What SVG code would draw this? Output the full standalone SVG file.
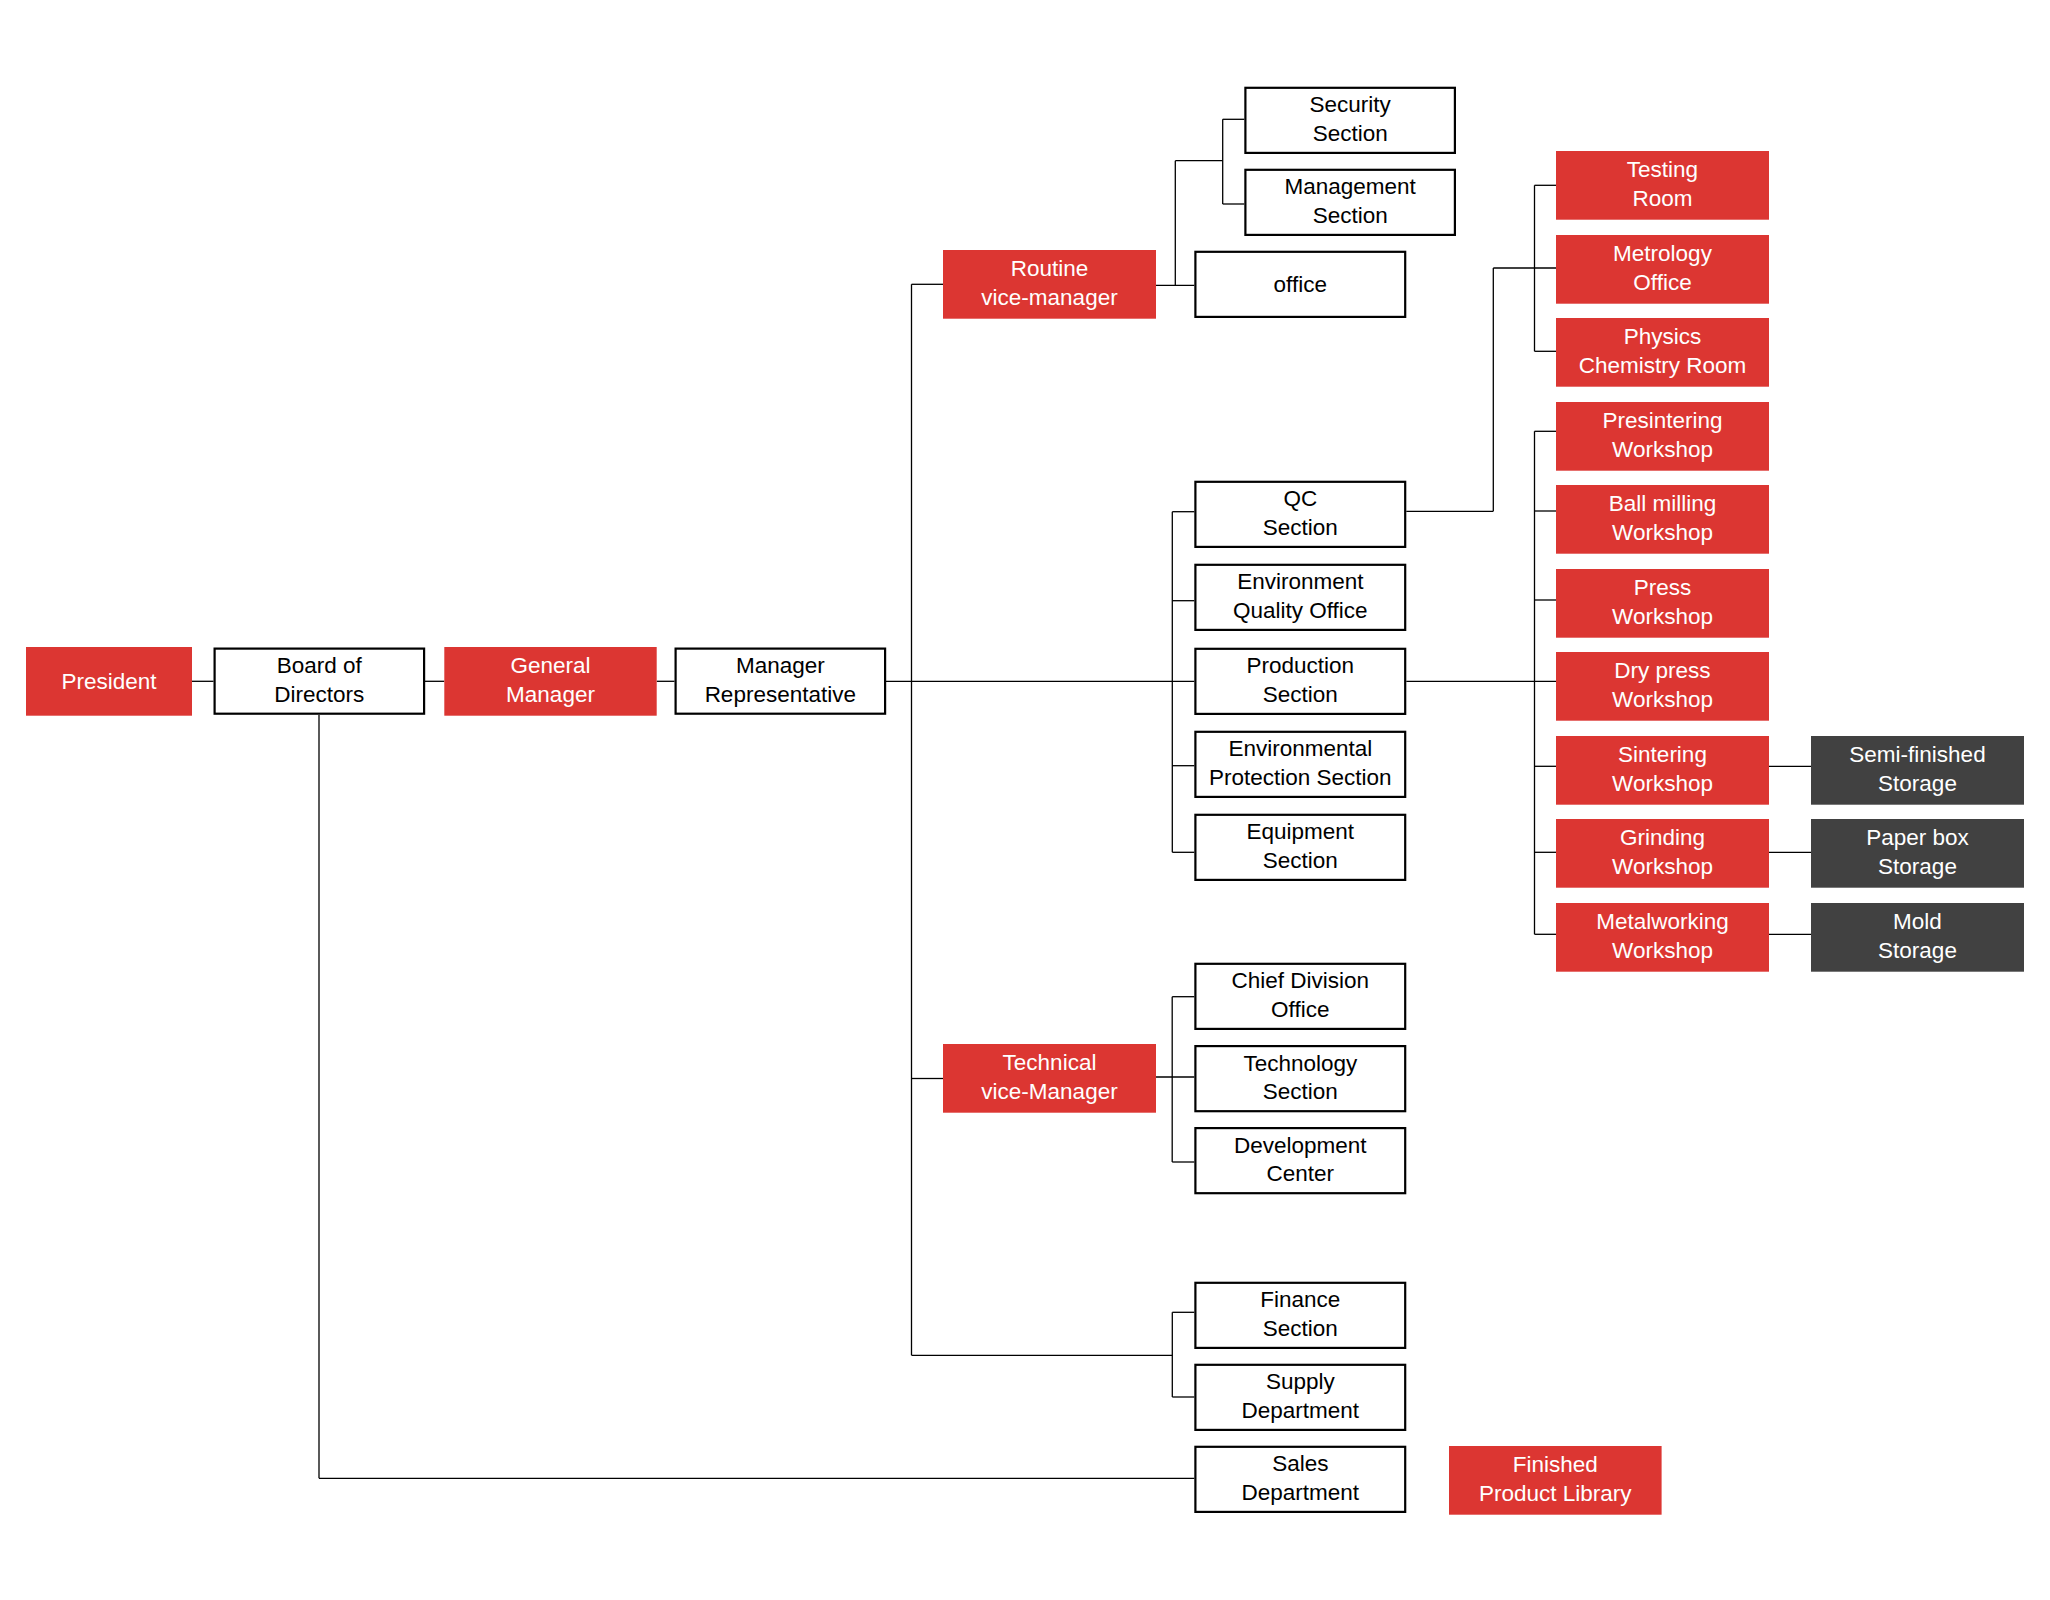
<svg xmlns="http://www.w3.org/2000/svg" width="2050" height="1600" viewBox="0 0 2050 1600">
<style>
.w{fill:#ffffff;stroke:#000000;stroke-width:2.2}
.r{fill:#DC3632}
.d{fill:#414141}
text{font-family:"Liberation Sans",Arial,sans-serif;font-size:22.5px;text-anchor:middle}
.tb{fill:#000000}
.tw{fill:#ffffff}
.c line{stroke:#000000;stroke-width:1.3;fill:none}
</style>
<rect x="0" y="0" width="2050" height="1600" fill="#ffffff"/>
<g class="c" id="connectors">
<line x1="192" y1="681.3" x2="213.5" y2="681.3"/>
<line x1="425" y1="681.3" x2="444.3" y2="681.3"/>
<line x1="656.7" y1="681.3" x2="674.5" y2="681.3"/>
<line x1="885.5" y1="681.3" x2="1194.3" y2="681.3"/>
<line x1="911.5" y1="284.3" x2="911.5" y2="1355.3"/>
<line x1="911.5" y1="284.3" x2="943" y2="284.3"/>
<line x1="911.5" y1="1078.5" x2="943" y2="1078.5"/>
<line x1="911.5" y1="1355.3" x2="1172.3" y2="1355.3"/>
<line x1="1156" y1="285.3" x2="1194.3" y2="285.3"/>
<line x1="1175.3" y1="160.7" x2="1175.3" y2="285.3"/>
<line x1="1175.3" y1="160.7" x2="1222.7" y2="160.7"/>
<line x1="1222.7" y1="119.3" x2="1222.7" y2="204"/>
<line x1="1222.7" y1="119.3" x2="1244.3" y2="119.3"/>
<line x1="1222.7" y1="204" x2="1244.3" y2="204"/>
<line x1="1172.3" y1="511.7" x2="1172.3" y2="852.3"/>
<line x1="1172.3" y1="511.7" x2="1194.3" y2="511.7"/>
<line x1="1172.3" y1="600.7" x2="1194.3" y2="600.7"/>
<line x1="1172.3" y1="765.7" x2="1194.3" y2="765.7"/>
<line x1="1172.3" y1="852.3" x2="1194.3" y2="852.3"/>
<line x1="1406.3" y1="511.3" x2="1493.3" y2="511.3"/>
<line x1="1493.3" y1="268" x2="1493.3" y2="511.3"/>
<line x1="1493.3" y1="268" x2="1556" y2="268"/>
<line x1="1534.5" y1="185.3" x2="1534.5" y2="351.3"/>
<line x1="1534.5" y1="185.3" x2="1556" y2="185.3"/>
<line x1="1534.5" y1="351.3" x2="1556" y2="351.3"/>
<line x1="1406.3" y1="681.3" x2="1556" y2="681.3"/>
<line x1="1534.5" y1="431.3" x2="1534.5" y2="934.3"/>
<line x1="1534.5" y1="431.3" x2="1556" y2="431.3"/>
<line x1="1534.5" y1="511" x2="1556" y2="511"/>
<line x1="1534.5" y1="600" x2="1556" y2="600"/>
<line x1="1534.5" y1="766.3" x2="1556" y2="766.3"/>
<line x1="1534.5" y1="852.3" x2="1556" y2="852.3"/>
<line x1="1534.5" y1="934.3" x2="1556" y2="934.3"/>
<line x1="1769" y1="766.3" x2="1811" y2="766.3"/>
<line x1="1769" y1="852.3" x2="1811" y2="852.3"/>
<line x1="1769" y1="934.3" x2="1811" y2="934.3"/>
<line x1="1156" y1="1077" x2="1194.3" y2="1077"/>
<line x1="1172.2" y1="996.7" x2="1172.2" y2="1162"/>
<line x1="1172.2" y1="996.7" x2="1194.3" y2="996.7"/>
<line x1="1172.2" y1="1162" x2="1194.3" y2="1162"/>
<line x1="1172.3" y1="1312.3" x2="1172.3" y2="1397"/>
<line x1="1172.3" y1="1312.3" x2="1194.3" y2="1312.3"/>
<line x1="1172.3" y1="1397" x2="1194.3" y2="1397"/>
<line x1="319" y1="715" x2="319" y2="1478.3"/>
<line x1="319" y1="1478.3" x2="1194.3" y2="1478.3"/>
</g>
<g id="president"><rect class="r" x="26" y="647" width="166" height="68.7"/><text class="tw" x="109" y="689.3">President</text></g>
<g id="board"><rect class="w" x="214.6" y="648.6" width="209.5" height="65.1"/><text class="tb" x="319.3" y="673.3">Board of</text><text class="tb" x="319.3" y="701.6">Directors</text></g>
<g id="general-manager"><rect class="r" x="444.3" y="647" width="212.4" height="68.7"/><text class="tw" x="550.5" y="673.3">General</text><text class="tw" x="550.5" y="701.6">Manager</text></g>
<g id="manager-rep"><rect class="w" x="675.6" y="648.6" width="209.5" height="65.1"/><text class="tb" x="780.3" y="673.3">Manager</text><text class="tb" x="780.3" y="701.6">Representative</text></g>
<g id="routine-vm"><rect class="r" x="943" y="250" width="213" height="68.7"/><text class="tw" x="1049.5" y="276.3">Routine</text><text class="tw" x="1049.5" y="304.6">vice-manager</text></g>
<g id="security"><rect class="w" x="1245.4" y="87.8" width="209.5" height="65.1"/><text class="tb" x="1350.2" y="112.3">Security</text><text class="tb" x="1350.2" y="140.6">Section</text></g>
<g id="management"><rect class="w" x="1245.4" y="169.8" width="209.5" height="65.1"/><text class="tb" x="1350.2" y="194.3">Management</text><text class="tb" x="1350.2" y="222.6">Section</text></g>
<g id="office"><rect class="w" x="1195.4" y="251.8" width="209.8" height="65.1"/><text class="tb" x="1300.3" y="292.3">office</text></g>
<g id="qc"><rect class="w" x="1195.4" y="481.8" width="209.8" height="65.1"/><text class="tb" x="1300.3" y="506.3">QC</text><text class="tb" x="1300.3" y="534.6">Section</text></g>
<g id="env-quality"><rect class="w" x="1195.4" y="564.8" width="209.8" height="65.1"/><text class="tb" x="1300.3" y="589.3">Environment</text><text class="tb" x="1300.3" y="617.6">Quality Office</text></g>
<g id="production"><rect class="w" x="1195.4" y="648.8" width="209.8" height="65.1"/><text class="tb" x="1300.3" y="673.3">Production</text><text class="tb" x="1300.3" y="701.6">Section</text></g>
<g id="env-protection"><rect class="w" x="1195.4" y="731.8" width="209.8" height="65.1"/><text class="tb" x="1300.3" y="756.3">Environmental</text><text class="tb" x="1300.3" y="784.6">Protection Section</text></g>
<g id="equipment"><rect class="w" x="1195.4" y="814.8" width="209.8" height="65.1"/><text class="tb" x="1300.3" y="839.3">Equipment</text><text class="tb" x="1300.3" y="867.6">Section</text></g>
<g id="technical-vm"><rect class="r" x="943" y="1044" width="213" height="68.7"/><text class="tw" x="1049.5" y="1070.3">Technical</text><text class="tw" x="1049.5" y="1098.6">vice-Manager</text></g>
<g id="chief-division"><rect class="w" x="1195.4" y="963.8" width="209.8" height="65.1"/><text class="tb" x="1300.3" y="988.3">Chief Division</text><text class="tb" x="1300.3" y="1016.6">Office</text></g>
<g id="technology"><rect class="w" x="1195.4" y="1046.1" width="209.8" height="65.1"/><text class="tb" x="1300.3" y="1070.6">Technology</text><text class="tb" x="1300.3" y="1098.9">Section</text></g>
<g id="development"><rect class="w" x="1195.4" y="1128.1" width="209.8" height="65.1"/><text class="tb" x="1300.3" y="1152.6">Development</text><text class="tb" x="1300.3" y="1180.9">Center</text></g>
<g id="finance"><rect class="w" x="1195.4" y="1282.8" width="209.8" height="65.1"/><text class="tb" x="1300.3" y="1307.3">Finance</text><text class="tb" x="1300.3" y="1335.6">Section</text></g>
<g id="supply"><rect class="w" x="1195.4" y="1364.8" width="209.8" height="65.1"/><text class="tb" x="1300.3" y="1389.3">Supply</text><text class="tb" x="1300.3" y="1417.6">Department</text></g>
<g id="sales"><rect class="w" x="1195.4" y="1446.8" width="209.8" height="65.1"/><text class="tb" x="1300.3" y="1471.3">Sales</text><text class="tb" x="1300.3" y="1499.6">Department</text></g>
<g id="finished-product"><rect class="r" x="1449" y="1446" width="212.6" height="68.7"/><text class="tw" x="1555.3" y="1472.3">Finished</text><text class="tw" x="1555.3" y="1500.6">Product Library</text></g>
<g id="testing"><rect class="r" x="1556" y="151" width="213" height="68.7"/><text class="tw" x="1662.5" y="177.3">Testing</text><text class="tw" x="1662.5" y="205.6">Room</text></g>
<g id="metrology"><rect class="r" x="1556" y="235" width="213" height="68.7"/><text class="tw" x="1662.5" y="261.3">Metrology</text><text class="tw" x="1662.5" y="289.6">Office</text></g>
<g id="physics"><rect class="r" x="1556" y="318" width="213" height="68.7"/><text class="tw" x="1662.5" y="344.3">Physics</text><text class="tw" x="1662.5" y="372.6">Chemistry Room</text></g>
<g id="presintering"><rect class="r" x="1556" y="402" width="213" height="68.7"/><text class="tw" x="1662.5" y="428.3">Presintering</text><text class="tw" x="1662.5" y="456.6">Workshop</text></g>
<g id="ball-milling"><rect class="r" x="1556" y="485" width="213" height="68.7"/><text class="tw" x="1662.5" y="511.3">Ball milling</text><text class="tw" x="1662.5" y="539.6">Workshop</text></g>
<g id="press"><rect class="r" x="1556" y="569" width="213" height="68.7"/><text class="tw" x="1662.5" y="595.3">Press</text><text class="tw" x="1662.5" y="623.6">Workshop</text></g>
<g id="dry-press"><rect class="r" x="1556" y="652" width="213" height="68.7"/><text class="tw" x="1662.5" y="678.3">Dry press</text><text class="tw" x="1662.5" y="706.6">Workshop</text></g>
<g id="sintering"><rect class="r" x="1556" y="736" width="213" height="68.7"/><text class="tw" x="1662.5" y="762.3">Sintering</text><text class="tw" x="1662.5" y="790.6">Workshop</text></g>
<g id="grinding"><rect class="r" x="1556" y="819" width="213" height="68.7"/><text class="tw" x="1662.5" y="845.3">Grinding</text><text class="tw" x="1662.5" y="873.6">Workshop</text></g>
<g id="metalworking"><rect class="r" x="1556" y="903" width="213" height="68.7"/><text class="tw" x="1662.5" y="929.3">Metalworking</text><text class="tw" x="1662.5" y="957.6">Workshop</text></g>
<g id="semi-finished"><rect class="d" x="1811" y="736" width="213" height="68.7"/><text class="tw" x="1917.5" y="762.3">Semi-finished</text><text class="tw" x="1917.5" y="790.6">Storage</text></g>
<g id="paper-box"><rect class="d" x="1811" y="819" width="213" height="68.7"/><text class="tw" x="1917.5" y="845.3">Paper box</text><text class="tw" x="1917.5" y="873.6">Storage</text></g>
<g id="mold"><rect class="d" x="1811" y="903" width="213" height="68.7"/><text class="tw" x="1917.5" y="929.3">Mold</text><text class="tw" x="1917.5" y="957.6">Storage</text></g>
</svg>
